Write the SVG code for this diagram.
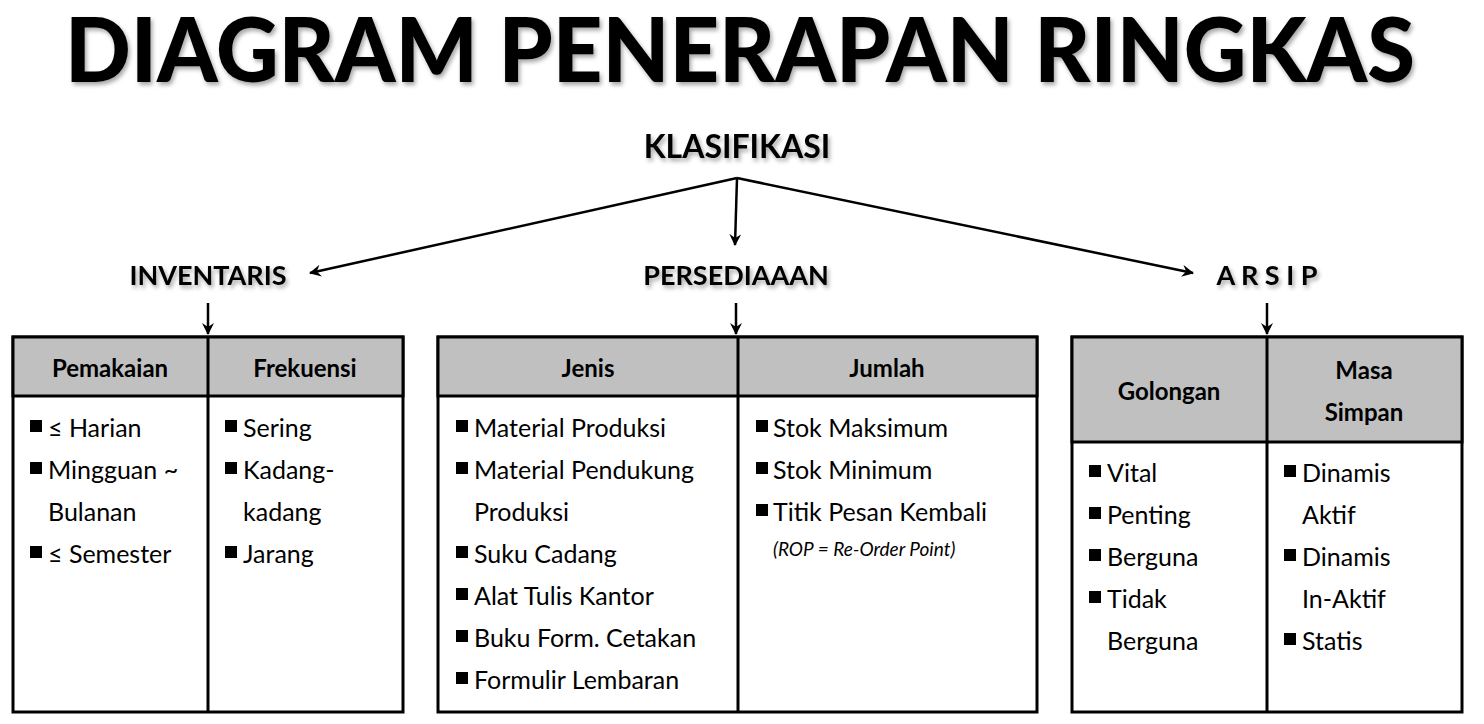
<svg xmlns="http://www.w3.org/2000/svg" width="1484" height="724" viewBox="0 0 1484 724">
<defs>
<filter id="sh" x="-5%" y="-30%" width="110%" height="160%"><feDropShadow dx="2" dy="3" stdDeviation="2" flood-color="#000" flood-opacity="0.35"/></filter>
<marker id="ah" viewBox="0 0 12 12" refX="11" refY="6" markerWidth="12" markerHeight="12" markerUnits="userSpaceOnUse" orient="auto"><path d="M0,0 L12,6 L0,12 L4,6 z" fill="#000"/></marker>
<style>
text{font-family:Lato,"Open Sans",sans-serif;fill:#000}
.t{font-size:90px;font-weight:900}
.h{font-size:32px;font-weight:bold;text-anchor:middle}
.c{font-size:27px;font-weight:bold;text-anchor:middle}
.hd{font-size:24px;font-weight:bold;text-anchor:middle}
.i{font-size:25px}
.r{font-size:19px;font-style:italic}
.box{fill:#fff;stroke:#000;stroke-width:3}
.hb{fill:#c0c0c0;stroke:#000;stroke-width:3}
.ln{stroke:#000;stroke-width:2.5;fill:none;marker-end:url(#ah)}
.b{fill:#000}
</style>
</defs>
<rect width="1484" height="724" fill="#fff"/>
<text class="t" x="65" y="82" textLength="1350" lengthAdjust="spacingAndGlyphs" filter="url(#sh)">DIAGRAM PENERAPAN RINGKAS</text>
<g id="klasifikasi"><text class="h" x="737" y="158" filter="url(#sh)">KLASIFIKASI</text></g>
<g id="inventaris"><text class="c" x="208" y="285" filter="url(#sh)">INVENTARIS</text></g>
<g id="persediaan"><text class="c" x="736" y="285" filter="url(#sh)">PERSEDIAAAN</text></g>
<g id="arsip"><text class="c" x="1267" y="285" filter="url(#sh)">A R S I P</text></g>
<g id="connectors">
<line class="ln" x1="737" y1="178" x2="310" y2="273"/>
<line class="ln" x1="737" y1="178" x2="735" y2="245"/>
<line class="ln" x1="737" y1="178" x2="1193" y2="273"/>
<line class="ln" x1="208" y1="303" x2="208" y2="334"/>
<line class="ln" x1="736" y1="303" x2="736" y2="334"/>
<line class="ln" x1="1267" y1="303" x2="1267" y2="334"/>
</g>
<g id="box-inventaris">
<rect class="box" x="13" y="337" width="390" height="375"/>
<rect class="hb" x="13" y="337" width="390" height="59"/>
<line x1="208" y1="337" x2="208" y2="712" stroke="#000" stroke-width="3"/>
<text class="hd" x="110" y="377">Pemakaian</text>
<text class="hd" x="305" y="377">Frekuensi</text>
<rect class="b" x="30" y="420" width="12" height="12"/><text class="i" x="48" y="437">≤ Harian</text>
<rect class="b" x="30" y="462" width="12" height="12"/><text class="i" x="48" y="479">Mingguan ~</text>
<text class="i" x="48" y="521">Bulanan</text>
<rect class="b" x="30" y="546" width="12" height="12"/><text class="i" x="48" y="563">≤ Semester</text>
<rect class="b" x="225" y="420" width="12" height="12"/><text class="i" x="243" y="437">Sering</text>
<rect class="b" x="225" y="462" width="12" height="12"/><text class="i" x="243" y="479">Kadang-</text>
<text class="i" x="243" y="521">kadang</text>
<rect class="b" x="225" y="546" width="12" height="12"/><text class="i" x="243" y="563">Jarang</text>
</g>
<g id="box-persediaan">
<rect class="box" x="438" y="337" width="599" height="375"/>
<rect class="hb" x="438" y="337" width="599" height="59"/>
<line x1="738" y1="337" x2="738" y2="712" stroke="#000" stroke-width="3"/>
<text class="hd" x="588" y="377">Jenis</text>
<text class="hd" x="887" y="377">Jumlah</text>
<rect class="b" x="456" y="420" width="12" height="12"/><text class="i" x="474" y="437">Material Produksi</text>
<rect class="b" x="456" y="462" width="12" height="12"/><text class="i" x="474" y="479">Material Pendukung</text>
<text class="i" x="474" y="521">Produksi</text>
<rect class="b" x="456" y="546" width="12" height="12"/><text class="i" x="474" y="563">Suku Cadang</text>
<rect class="b" x="456" y="588" width="12" height="12"/><text class="i" x="474" y="605">Alat Tulis Kantor</text>
<rect class="b" x="456" y="630" width="12" height="12"/><text class="i" x="474" y="647">Buku Form. Cetakan</text>
<rect class="b" x="456" y="672" width="12" height="12"/><text class="i" x="474" y="689">Formulir Lembaran</text>
<rect class="b" x="756" y="420" width="12" height="12"/><text class="i" x="773" y="437">Stok Maksimum</text>
<rect class="b" x="756" y="462" width="12" height="12"/><text class="i" x="773" y="479">Stok Minimum</text>
<rect class="b" x="756" y="504" width="12" height="12"/><text class="i" x="773" y="521">Titik Pesan Kembali</text>
<text class="r" x="773" y="556">(ROP = Re-Order Point)</text>
</g>
<g id="box-arsip">
<rect class="box" x="1072" y="337" width="390" height="375"/>
<rect class="hb" x="1072" y="337" width="390" height="105"/>
<line x1="1267" y1="337" x2="1267" y2="712" stroke="#000" stroke-width="3"/>
<text class="hd" x="1169" y="400">Golongan</text>
<text class="hd" x="1364" y="379">Masa</text>
<text class="hd" x="1364" y="421">Simpan</text>
<rect class="b" x="1089" y="465" width="12" height="12"/><text class="i" x="1107" y="482">Vital</text>
<rect class="b" x="1089" y="507" width="12" height="12"/><text class="i" x="1107" y="524">Penting</text>
<rect class="b" x="1089" y="549" width="12" height="12"/><text class="i" x="1107" y="566">Berguna</text>
<rect class="b" x="1089" y="591" width="12" height="12"/><text class="i" x="1107" y="608">Tidak</text>
<text class="i" x="1107" y="650">Berguna</text>
<rect class="b" x="1284" y="465" width="12" height="12"/><text class="i" x="1302" y="482">Dinamis</text>
<text class="i" x="1302" y="524">Aktif</text>
<rect class="b" x="1284" y="549" width="12" height="12"/><text class="i" x="1302" y="566">Dinamis</text>
<text class="i" x="1302" y="608">In-Aktif</text>
<rect class="b" x="1284" y="633" width="12" height="12"/><text class="i" x="1302" y="650">Statis</text>
</g>
</svg>
